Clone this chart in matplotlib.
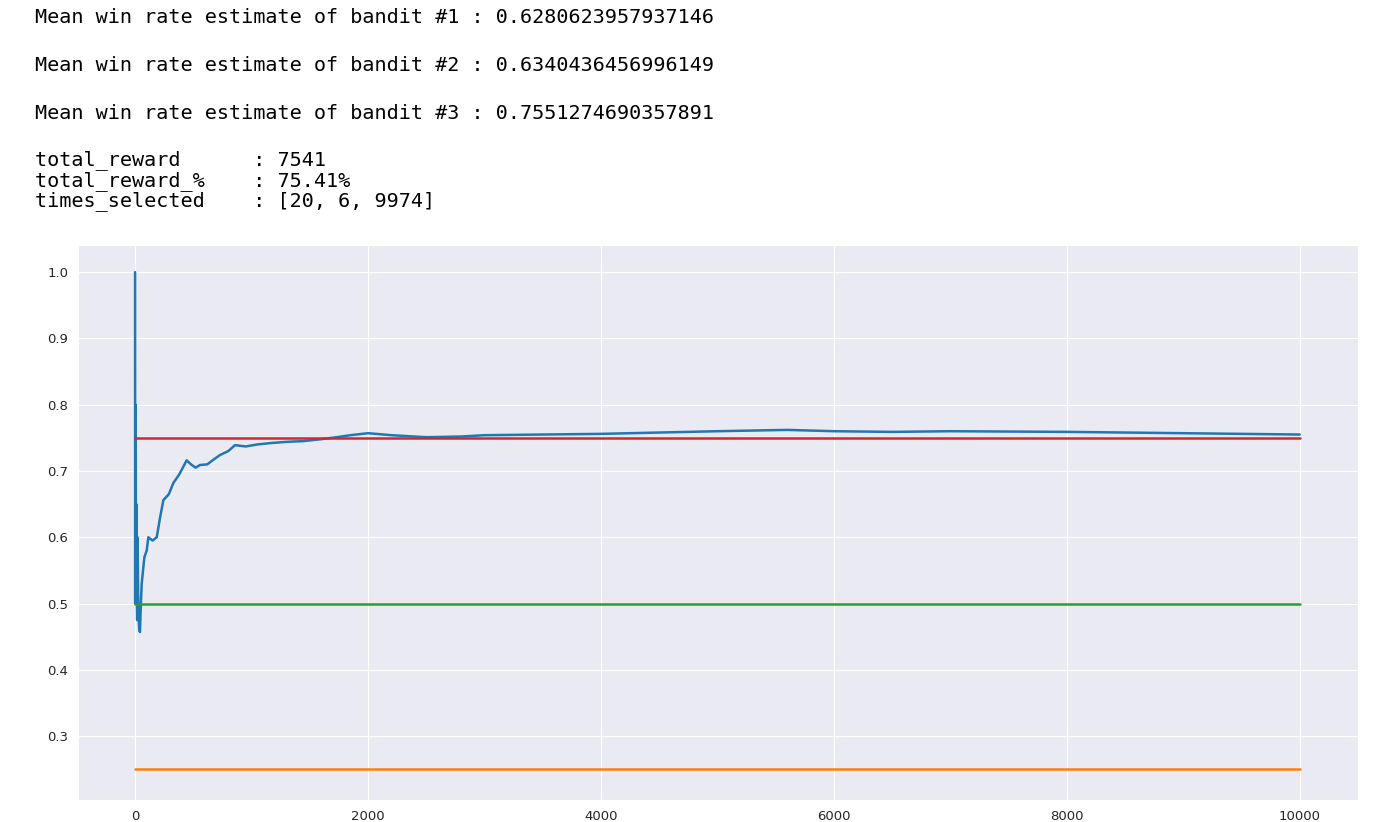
import matplotlib
matplotlib.use("Agg")
import matplotlib.pyplot as plt
import seaborn as sns

# bandit output
bandit_estimates = ["0.6280623957937146", "0.6340436456996149", "0.7551274690357891"]
total_reward = 7541
total_reward_pct = "75.41%"
times_selected = [20, 6, 9974]

true_rates = [0.25, 0.5, 0.75]
true_colors = ["tab:orange", "tab:green", "tab:red"]

# cumulative win rate (estimated points)
win_x = [0, 1, 2, 4, 6, 8, 10, 14, 18, 22, 26, 30, 36, 42, 50, 57, 66, 80,
         100, 114, 150, 186, 215, 243, 290, 329, 380, 443, 480, 520, 557,
         620, 680, 729, 800, 858, 950, 1050, 1158, 1300, 1441, 1600, 1733,
         1850, 2000, 2200, 2500, 2800, 3000, 3500, 4000, 4500, 5000, 5600,
         6000, 6500, 7000, 8000, 9000, 10000]
win_y = [1.0, 0.5, 0.8, 0.6, 0.727, 0.5, 0.65, 0.52, 0.475, 0.6, 0.516, 0.48,
         0.46, 0.457, 0.5, 0.53, 0.546, 0.57, 0.58, 0.60, 0.595, 0.60, 0.63,
         0.656, 0.665, 0.682, 0.695, 0.716, 0.71, 0.705, 0.709, 0.71, 0.718,
         0.724, 0.73, 0.739, 0.737, 0.74, 0.742, 0.744, 0.745, 0.748, 0.751,
         0.754, 0.757, 0.754, 0.751, 0.752, 0.754, 0.755, 0.756, 0.758,
         0.76, 0.762, 0.76, 0.759, 0.76, 0.759, 0.757, 0.755]

sns.set_style("darkgrid")
fig = plt.figure(figsize=(14, 8.22), dpi=100)
fig.patch.set_facecolor("white")

mono = dict(family="DejaVu Sans Mono", fontsize=14.5, va="top", color="black")
for i, est in enumerate(bandit_estimates):
    fig.text(0.025, 1 - (8 + 48 * i) / 822,
             f"Mean win rate estimate of bandit #{i + 1} : {est}", **mono)
summary = (f"total_reward      : {total_reward}\n"
           f"total_reward_%    : {total_reward_pct}\n"
           f"times_selected    : {times_selected}")
fig.text(0.025, 1 - 150 / 822, summary, linespacing=1.05, **mono)

ax = fig.add_axes([78 / 1400, 1 - 800 / 822, 1280 / 1400, 555 / 822])
ax.plot(win_x, win_y, color="tab:blue", lw=1.8)
for r, c in zip(true_rates, true_colors):
    ax.plot([0, 10000], [r, r], color=c, lw=1.8)
ax.set_xlim(-490, 10500)
ax.set_ylim(0.2035, 1.041)
ax.set_yticks([0.3, 0.4, 0.5, 0.6, 0.7, 0.8, 0.9, 1.0])
ax.tick_params(labelsize=9.5)
fig.savefig("out.png")
